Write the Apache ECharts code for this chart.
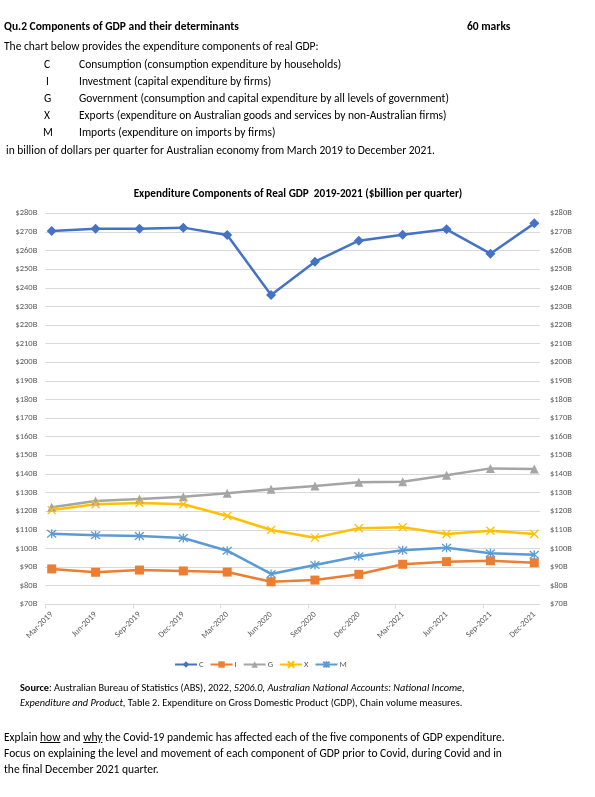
<!DOCTYPE html>
<html>
<head>
<meta charset="utf-8">
<script src="https://cdn.jsdelivr.net/npm/echarts@6/dist/echarts.min.js"></script>
<style>
  html, body { margin: 0; padding: 0; background: #fff; }
  body { width: 595px; height: 797px; position: relative; overflow: hidden; font-family: Carlito, Calibri, Lato, sans-serif; color: #000; }
  #chart { position: absolute; left: 0; top: 0; width: 595px; height: 797px; }
  .t { position: absolute; white-space: nowrap; font-size: 11.5px; line-height: 14px; }
  .b { font-weight: bold; }
  .u { text-decoration: underline; }
  .s { font-size: 10.3px; line-height: 12px; }
</style>
</head>
<body>
<div id="chart"></div>
<div class="t b" style="left:4px;top:19px;">Qu.2 Components of GDP and their determinants</div>
<div class="t b" style="left:467px;top:19px;">60 marks</div>
<div class="t" style="left:4px;top:39px;">The chart below provides the expenditure components of real GDP:</div>
<div class="t" style="left:44px;top:57px;">C</div><div class="t" style="left:79px;top:57px;">Consumption (consumption expenditure by households)</div>
<div class="t" style="left:46px;top:74px;">I</div><div class="t" style="left:79px;top:74px;">Investment (capital expenditure by firms)</div>
<div class="t" style="left:44px;top:91px;">G</div><div class="t" style="left:79px;top:91px;">Government (consumption and capital expenditure by all levels of government)</div>
<div class="t" style="left:44px;top:108px;">X</div><div class="t" style="left:79px;top:108px;">Exports (expenditure on Australian goods and services by non-Australian firms)</div>
<div class="t" style="left:43px;top:125px;">M</div><div class="t" style="left:79px;top:125px;">Imports (expenditure on imports by firms)</div>
<div class="t" style="left:6px;top:143px;">in billion of dollars per quarter for Australian economy from March 2019 to December 2021.</div>

<div class="t s" style="left:20px;top:682px;"><span class="b">Source</span>: Australian Bureau of Statistics (ABS), 2022, <i>5206.0, Australian National Accounts: National Income,</i></div>
<div class="t s" style="left:20px;top:697px;"><i>Expenditure and Product</i>, Table 2. Expenditure on Gross Domestic Product (GDP), Chain volume measures.</div>

<div class="t" style="left:4px;top:730px;">Explain <span class="u">how</span> and <span class="u">why</span> the Covid-19 pandemic has affected each of the five components of GDP expenditure.</div>
<div class="t" style="left:4px;top:746px;">Focus on explaining the level and movement of each component of GDP prior to Covid, during Covid and in</div>
<div class="t" style="left:4px;top:762px;">the final December 2021 quarter.</div>

<script>
// Quarters
const categories = ['Mar-2019','Jun-2019','Sep-2019','Dec-2019','Mar-2020','Jun-2020','Sep-2020','Dec-2020','Mar-2021','Jun-2021','Sep-2021','Dec-2021'];
// $billion per quarter
const C = [270.5, 271.7, 271.7, 272.3, 268.3, 236.1, 254.0, 265.3, 268.5, 271.4, 258.3, 274.6];
const I = [89.0, 87.2, 88.4, 87.9, 87.3, 82.1, 83.0, 86.1, 91.5, 92.9, 93.4, 92.3];
const G = [122.1, 125.5, 126.6, 127.8, 129.6, 131.8, 133.5, 135.5, 135.8, 139.3, 143.0, 142.7];
const X = [120.6, 123.7, 124.4, 123.7, 117.4, 109.9, 105.8, 110.8, 111.4, 107.8, 109.5, 107.8];
const M = [107.9, 107.1, 106.7, 105.6, 98.8, 86.3, 91.1, 95.8, 99.0, 100.4, 97.4, 96.6];
const yMin = 70, yMax = 280, yStep = 10;

const FONT = 'Carlito, Calibri, Lato, sans-serif';
const labelColor = '#595959';
const gridColor = '#D9D9D9';

function pts(arr) { return arr.map((v, i) => [i, v]); }

const crossPath = 'path://M0,0L10,10M10,0L0,10';
const starPath = 'path://M0,0L10,10M10,0L0,10M5,-1L5,11';

const chart = echarts.init(document.getElementById('chart'), null, { renderer: 'canvas' });
chart.setOption({
  animation: false,
  textStyle: { fontFamily: FONT },
  title: {
    text: 'Expenditure Components of Real GDP  2019-2021 ($billion per quarter)',
    left: 293, textAlign: 'center', top: 184,
    textStyle: { fontSize: 11.2, fontWeight: 'bold', color: '#000', fontFamily: FONT }
  },
  legend: {
    data: ['C', 'I', 'G', 'X', 'M'],
    left: 169, top: 655,
    itemWidth: 22, itemHeight: 8, itemGap: 6,
    textStyle: { fontSize: 8.5, color: labelColor, padding: [0, 0, 0, -3] }
  },
  grid: [
    { left: 45.3, right: 55, top: 213.3, height: 391, containLabel: false },
    { left: 45.3, right: 68, top: 213.3, height: 391, containLabel: false },
    { left: 51.7, right: 60.7, top: 213.3, height: 391, containLabel: false }
  ],
  xAxis: [
    { type: 'value', gridIndex: 0, min: -0.146, max: 11.13, show: false },
    {
      type: 'category', gridIndex: 1, data: categories, boundaryGap: false,
      axisLine: { show: false },
      axisTick: { show: true, length: 4, lineStyle: { color: gridColor } },
      axisLabel: { show: false },
      splitLine: { show: false }
    },
    {
      type: 'category', gridIndex: 2, data: categories, boundaryGap: false,
      axisLine: { show: false }, axisTick: { show: false },
      axisLabel: { rotate: 45, fontSize: 8.5, color: labelColor, margin: 9, interval: 0, fontFamily: FONT },
      splitLine: { show: false }
    }
  ],
  yAxis: [
    {
      type: 'value', gridIndex: 0, position: 'left', min: yMin, max: yMax, interval: yStep,
      axisLine: { show: false }, axisTick: { show: false },
      axisLabel: { formatter: v => '$' + v + 'B', fontSize: 8.5, color: labelColor, margin: 8, fontFamily: FONT },
      splitLine: { lineStyle: { color: gridColor, width: 1 } }
    },
    {
      type: 'value', gridIndex: 0, position: 'right', min: yMin, max: yMax, interval: yStep,
      axisLine: { show: false }, axisTick: { show: false },
      axisLabel: { formatter: v => '$' + v + 'B', fontSize: 8.5, color: labelColor, margin: 10, fontFamily: FONT },
      splitLine: { show: false }
    },
    { type: 'value', gridIndex: 1, min: yMin, max: yMax, show: false, splitLine: { show: false } },
    { type: 'value', gridIndex: 2, min: yMin, max: yMax, show: false, splitLine: { show: false } }
  ],
  series: [
    { name: 'C', type: 'line', xAxisIndex: 0, yAxisIndex: 0, data: pts(C),
      symbol: 'diamond', symbolSize: 10,
      lineStyle: { color: '#4472C4', width: 2.5 }, itemStyle: { color: '#4472C4' } },
    { name: 'I', type: 'line', xAxisIndex: 0, yAxisIndex: 0, data: pts(I),
      symbol: 'rect', symbolSize: 9,
      lineStyle: { color: '#ED7D31', width: 2.5 }, itemStyle: { color: '#ED7D31' } },
    { name: 'G', type: 'line', xAxisIndex: 0, yAxisIndex: 0, data: pts(G),
      symbol: 'triangle', symbolSize: 9,
      lineStyle: { color: '#A5A5A5', width: 2.5 }, itemStyle: { color: '#A5A5A5' } },
    { name: 'X', type: 'line', xAxisIndex: 0, yAxisIndex: 0, data: pts(X),
      symbol: crossPath, symbolSize: 8,
      lineStyle: { color: '#FFC000', width: 2.5 }, itemStyle: { color: '#FFC000', borderColor: '#FFC000', borderWidth: 1.3 } },
    { name: 'M', type: 'line', xAxisIndex: 0, yAxisIndex: 0, data: pts(M),
      symbol: starPath, symbolSize: 9,
      lineStyle: { color: '#5B9BD5', width: 2.5 }, itemStyle: { color: '#5B9BD5', borderColor: '#5B9BD5', borderWidth: 1.3 } }
  ]
});
</script>
</body>
</html>
